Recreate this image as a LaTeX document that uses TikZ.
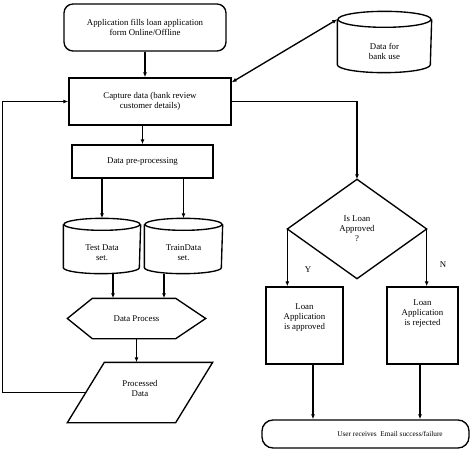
\documentclass[tikz,border=0pt]{standalone}
\usepackage{fontspec}
\setmainfont{Liberation Serif}
\usetikzlibrary{arrows.meta,calc}
\newcommand{\mycyl}[3]{%
  \draw ($(#1.north)+(0,-#3)$) ellipse [x radius=#2, y radius=#3];
  \draw ($(#1.north west)+(0,-#3)$) -- ($(#1.south west)+(0,#3)$)
        arc[start angle=180, end angle=360, x radius=#2, y radius=#3]
        -- ($(#1.north east)+(0,-#3)$);}
\begin{document}
\begin{tikzpicture}[x=1pt,y=1pt,line width=1.35pt,
  every node/.style={font=\fontsize{8.8}{10}\selectfont, align=center, inner sep=0pt},
  box/.style={draw, rectangle},
  ghost/.style={rectangle},
  arr/.style={-{Latex[length=5pt,width=4pt]}},
  darr/.style={{Latex[length=5pt,width=4pt]}-{Latex[length=5pt,width=4pt]}}]
\useasboundingbox (0,0) rectangle (474,459);
% nodes
\node[box, rounded corners=9pt, minimum width=162pt, minimum height=47pt] (app) at (145,431.5)
  {Application fills loan application\\form Online/Offline};
\node[box, minimum width=162pt, minimum height=47pt] (cap) at (150,357.5)
  {Capture data (bank review\\customer details)};
\node[box, minimum width=141pt, minimum height=33pt] (pre) at (142.5,297.5) {Data pre-processing};
\node[ghost, minimum width=76pt, minimum height=54pt] (test) at (102,213) {};
\mycyl{test}{38}{6}
\node (testlbl) at ($(test)+(0,-7)$) {Test Data\\set.};
\node[ghost, minimum width=77pt, minimum height=54pt] (train) at (183.5,213) {};
\mycyl{train}{38.5}{6}
\node (trainlbl) at ($(train)+(0,-7)$) {TrainData\\set.};
\node[ghost, minimum width=137pt, minimum height=39pt] (hex) at (136.5,140.5) {Data Process};
\draw (hex.west) -- ($(hex.north west)+(25,0)$) -- ($(hex.north east)+(-30,0)$) -- (hex.east)
  -- ($(hex.south east)+(-30,0)$) -- ($(hex.south west)+(25,0)$) -- cycle;
\node[ghost, minimum width=144pt, minimum height=59pt] (proc) at (140,66.5) {};
\draw (proc.south west) -- ($(proc.north west)+(37,0)$) -- (proc.north east)
  -- ($(proc.south east)+(-37,0)$) -- cycle;
\node (proclbl) at ($(proc)+(0,4)$) {Processed\\Data};
\node[ghost, minimum width=93pt, minimum height=60pt] (bank) at (384.5,417) {};
\mycyl{bank}{46.5}{8}
\node (banklbl) at ($(bank)+(0,-9)$) {Data for\\bank use};
\node[ghost, minimum width=138pt, minimum height=98pt] (dec) at (357,230) {Is Loan\\Approved\\?};
\draw (dec.north) -- (dec.east) -- (dec.south) -- (dec.west) -- cycle;
\node[box, minimum width=77pt, minimum height=77pt] (appr) at (304.5,133.5) {};
\node (apprlbl) at ($(appr)+(0,8)$) {Loan\\Application\\is approved};
\node[box, minimum width=71pt, minimum height=77pt] (rej) at (422.5,133.5) {};
\node (rejlbl) at ($(rej)+(0,12)$) {Loan\\Application\\is rejected};
\node[box, rounded corners=11pt, minimum width=207pt, minimum height=28pt] (email) at (365.5,25) {};
\node[font=\fontsize{7.3}{8.5}\selectfont] (emaillbl) at ($(email)+(24.5,0)$) {User receives\ \ Email success/failure};
\node (ylbl) at (308,189) {Y};
\node (nlbl) at (443,194) {N};
% connectors
\draw[arr] (app.south) -- (app.south |- cap.north);
\draw[arr] (cap.south -| pre.north) -- (pre.north);
\draw[arr] (pre.south -| test.north) -- (test.north);
\draw[arr] (pre.south -| train.north) -- (train.north);
\draw[arr] ([xshift=11pt]test.south) -- ([xshift=11pt]test.south |- hex.north);
\draw[arr] ([xshift=-19.5pt]train.south) -- ([xshift=-19.5pt]train.south |- hex.north);
\draw[arr] (hex.south) -- (hex.south |- proc.north);
\coordinate (procL) at ($(proc.west)+(18.5,0)$);
\draw[arr] (procL) -- ++(-83.5,0) |- (cap.west);
\draw[darr] ($(cap.north east)+(0,-5)$) -- ($(bank.north west)+(0,-8)$);
\draw[arr] (cap.east) -| (dec.north);
\draw[arr] (dec.west) -- (dec.west |- appr.north);
\draw[arr] (dec.east) -- (dec.east |- rej.north);
\draw[arr] ([xshift=8.5pt]appr.south) -- ([xshift=8.5pt]appr.south |- email.north);
\draw[arr] ([xshift=-2.5pt]rej.south) -- ([xshift=-2.5pt]rej.south |- email.north);
\end{tikzpicture}
\end{document}
